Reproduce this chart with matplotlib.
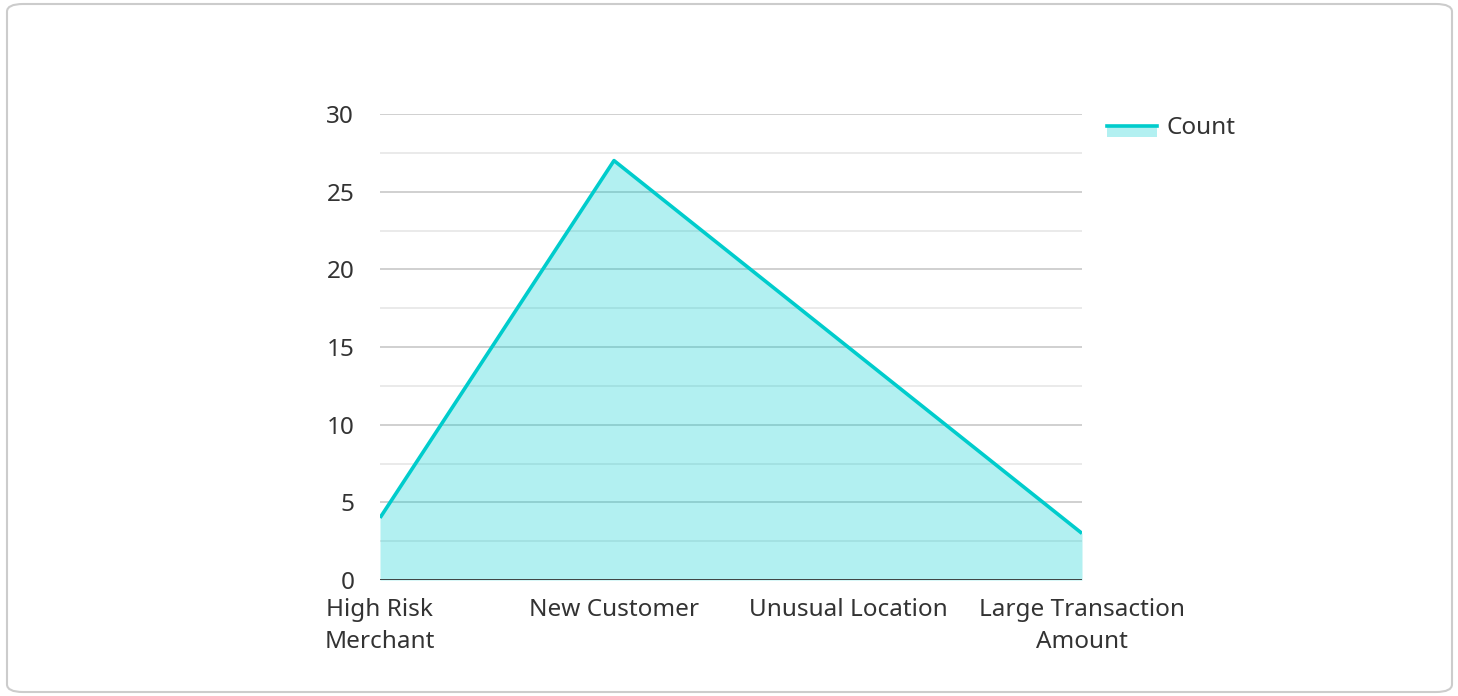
import matplotlib
matplotlib.use("Agg")
import matplotlib.pyplot as plt
from matplotlib.patches import FancyBboxPatch, Rectangle
from matplotlib.lines import Line2D

categories = ["High Risk\nMerchant", "New Customer", "Unusual Location", "Large Transaction\nAmount"]
counts = [4, 27, 15, 3]
series_name = "Count"
yticks = [0, 5, 10, 15, 20, 25, 30]

plt.rcParams['font.family'] = ['Noto Sans', 'DejaVu Sans']
W, H = 1458, 696
fig = plt.figure(figsize=(W/100, H/100), dpi=100)
fig.patch.set_facecolor("white")

# card border
card = FancyBboxPatch((7/W, 4/H), (1452-7)/W, (692-4)/H,
                      boxstyle="round,pad=0,rounding_size=0.011",
                      transform=fig.transFigure, facecolor="white",
                      edgecolor="#cccccc", linewidth=1.5, zorder=-5)
fig.patches.append(card)

ax = fig.add_axes([380/W, 1-580/H, (1082-380)/W, (580-114)/H], zorder=2)
ax.set_facecolor("none")
x = list(range(len(categories)))
line_color = "#00CCCC"
ax.fill_between(x, counts, 0, color="#00CED1", alpha=0.3, linewidth=0, zorder=2)
ax.plot(x, counts, color=line_color, linewidth=2.6, zorder=3, solid_capstyle="butt")

ax.set_xlim(0, 3)
ax.set_ylim(0, 30)
ax.set_yticks(yticks)
for v in [2.5, 7.5, 12.5, 17.5, 22.5, 27.5]:
    ax.axhline(v, color="#e6e6e6", linewidth=1.2, zorder=1)
for v in yticks[1:]:
    ax.axhline(v, color="#c8c8c8", linewidth=1.2, zorder=1)
ax.axhline(0, color="#333333", linewidth=2, zorder=4)

for s in ax.spines.values():
    s.set_visible(False)
ax.tick_params(axis="both", length=0, labelsize=17.5, labelcolor="#333333")
ax.tick_params(axis="y", pad=18.5)
ax.tick_params(axis="x", pad=13)
ax.set_xticks(x)
ax.set_xticklabels(categories, linespacing=1.42)

# legend
fig.patches.append(Rectangle((1107/W, 1-137/H), 50/W, 11/H, transform=fig.transFigure,
                             facecolor="#00CED1", alpha=0.3, linewidth=0, zorder=3))
fig.lines.append(Line2D([1107/W, 1157/W], [1-126/H, 1-126/H], transform=fig.transFigure,
                        color=line_color, linewidth=2.6, zorder=4))
fig.text(1167/W, 1-128/H, series_name, fontsize=17.5, color="#333333", va="center", ha="left")

fig.savefig("out.png", dpi=100)
